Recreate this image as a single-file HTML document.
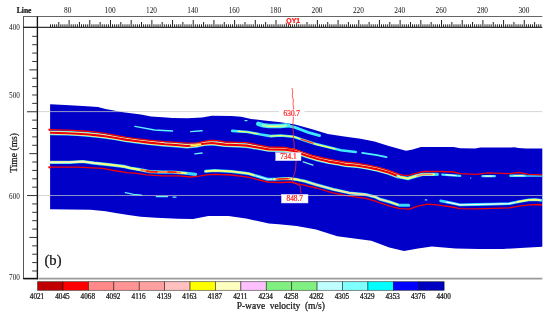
<!DOCTYPE html>
<html><head><meta charset="utf-8"><title>P-wave velocity section</title>
<style>
html,body{margin:0;padding:0;background:#fff;}
body{width:550px;height:317px;overflow:hidden;position:relative;}
svg text{font-family:"Liberation Serif",serif;stroke-width:0.22px;}
svg text.ss{font-family:"Liberation Sans",sans-serif;}
</style></head><body>
<svg width="550" height="317" viewBox="0 0 550 317" style="position:absolute;left:0;top:0">
<rect width="550" height="317" fill="#fff"/>
<polygon points="50.1,104.3 65.2,105.1 82.9,106.1 98.0,106.9 105.6,108.9 123.2,112.2 140.9,114.4 151.0,116.4 162.8,117.3 172.6,117.9 187.4,118.2 202.0,117.4 212.0,115.7 231.4,116.1 241.2,116.8 251.0,118.9 264.2,120.6 280.6,122.2 292.0,123.9 295.0,124.5 311.4,129.0 327.8,133.9 344.2,136.4 360.6,138.8 374.5,141.5 388.0,145.7 399.6,149.0 406.0,150.7 412.7,149.5 420.9,146.9 453.7,146.9 460.0,148.2 475.0,148.5 480.5,147.6 510.7,147.6 514.5,147.2 518.3,148.0 525.9,148.5 542.3,148.5 542.3,246.8 524.5,247.7 503.0,249.0 479.0,249.0 455.5,248.5 431.8,246.6 418.0,248.4 404.0,251.0 389.3,247.4 371.3,240.7 337.3,236.2 316.0,229.6 296.6,226.1 278.9,224.3 268.8,223.6 261.2,221.8 246.1,218.5 228.5,216.0 208.3,216.0 193.1,219.1 178.0,218.8 156.0,217.8 140.9,216.8 128.3,215.0 115.7,213.0 105.6,211.2 90.5,209.7 50.1,209.2" fill="#0000c8"/>
<clipPath id="c"><polygon points="50.1,104.3 65.2,105.1 82.9,106.1 98.0,106.9 105.6,108.9 123.2,112.2 140.9,114.4 151.0,116.4 162.8,117.3 172.6,117.9 187.4,118.2 202.0,117.4 212.0,115.7 231.4,116.1 241.2,116.8 251.0,118.9 264.2,120.6 280.6,122.2 292.0,123.9 295.0,124.5 311.4,129.0 327.8,133.9 344.2,136.4 360.6,138.8 374.5,141.5 388.0,145.7 399.6,149.0 406.0,150.7 412.7,149.5 420.9,146.9 453.7,146.9 460.0,148.2 475.0,148.5 480.5,147.6 510.7,147.6 514.5,147.2 518.3,148.0 525.9,148.5 542.3,148.5 542.3,246.8 524.5,247.7 503.0,249.0 479.0,249.0 455.5,248.5 431.8,246.6 418.0,248.4 404.0,251.0 389.3,247.4 371.3,240.7 337.3,236.2 316.0,229.6 296.6,226.1 278.9,224.3 268.8,223.6 261.2,221.8 246.1,218.5 228.5,216.0 208.3,216.0 193.1,219.1 178.0,218.8 156.0,217.8 140.9,216.8 128.3,215.0 115.7,213.0 105.6,211.2 90.5,209.7 50.1,209.2"/></clipPath>
<g clip-path="url(#c)">
<path d="M50.1 132.8 L66.8 133.2 L77.7 133.7 L88.6 134.5 L99.5 135.6 L105.0 136.3 L115.9 138.0 L126.8 139.9 L137.7 141.3 L148.6 142.6 L164.9 144.3 L175.9 145.0 L186.8 146.0 L195.6 145.3 L203.8 143.7 L212.0 143.0 L225.0 144.6 L235.9 145.0 L246.8 145.6 L257.7 147.5 L268.6 149.4 L284.9 149.8 L293.7 150.9 L303.2 154.4 L306.8 155.8 L317.7 159.1 L328.6 161.6 L339.5 163.4 L345.0 164.6 L355.9 165.5 L366.8 167.2 L377.7 169.4 L388.6 172.4 L396.3 175.4 L399.0 176.6" stroke="#30d8ff" stroke-width="4.8" fill="none" stroke-linecap="butt" stroke-linejoin="round"/>
<path d="M50.1 132.8 L66.8 133.2 L77.7 133.7 L88.6 134.5 L99.5 135.6 L105.0 136.3 L115.9 138.0 L126.8 139.9 L137.7 141.3 L148.6 142.6 L164.9 144.3 L175.9 145.0 L186.8 146.0 L195.6 145.3 L203.8 143.7 L212.0 143.0 L225.0 144.6 L235.9 145.0 L246.8 145.6 L257.7 147.5 L268.6 149.4 L284.9 149.8 L293.7 150.9 L303.2 154.4 L306.8 155.8 L317.7 159.1 L328.6 161.6 L339.5 163.4 L345.0 164.6 L355.9 165.5 L366.8 167.2 L377.7 169.4 L388.6 172.4 L396.3 175.4 L399.0 176.6" stroke="#ffffa0" stroke-width="3.6" fill="none" stroke-linecap="butt" stroke-linejoin="round"/>

<path d="M50.1 132.8 L66.8 133.2 L77.7 133.7 L88.6 134.5 L99.5 135.6 L105.0 136.3 L115.9 138.0 L126.8 139.9 L137.7 141.3 L148.6 142.6 L164.9 144.3 L175.9 145.0 L186.8 146.0 L195.6 145.3 L203.8 143.7 L212.0 143.0 L225.0 144.6 L235.9 145.0 L246.8 145.6 L257.7 147.5 L268.6 149.4 L284.9 149.8 L293.7 150.9 L303.2 154.4 L306.8 155.8 L317.7 159.1 L328.6 161.6 L339.5 163.4 L345.0 164.6 L355.9 165.5 L366.8 167.2 L377.7 169.4 L388.6 172.4 L396.3 175.4 L398.0 176.2" stroke="#e8000a" stroke-width="2.1" fill="none" stroke-linecap="round" stroke-linejoin="round"/>

<path d="M398.0 176.2 L399.6 176.9 L407.8 178.5 L416.0 176.0 L422.5 174.4 L430.7 174.4 L437.3 174.4" stroke="#30d8ff" stroke-width="3.4" fill="none" stroke-linecap="round" stroke-linejoin="round"/>

<path d="M398.0 176.2 L399.6 176.9 L407.8 178.5 L416.0 176.0 L422.5 174.4 L430.7 174.4 L434.0 174.4" stroke="#ffff70" stroke-width="2.0" fill="none" stroke-linecap="round" stroke-linejoin="round"/>

<path d="M417.0 175.8 L422.5 174.4 L430.7 174.4 L432.0 174.4" stroke="#ff9070" stroke-width="1.3" fill="none" stroke-linecap="round" stroke-linejoin="round"/>

<path d="M49.9 162.3 L69.6 162.3 L82.7 161.5 L94.2 163.1 L110.6 164.8 L123.7 166.4 L130.0 168.0 L139.8 169.7 L149.7 171.6 L162.8 172.1 L172.6 172.1 L184.1 173.0 L195.6 174.3" stroke="#38d8ff" stroke-width="3.2" fill="none" stroke-linecap="round" stroke-linejoin="round"/>

<path d="M50.0 162.3 L69.6 162.3 L82.7 161.5 L94.2 163.1 L110.6 164.8 L123.7 166.4 L130.0 168.0 L139.8 169.7 L149.7 171.6 L162.8 172.1 L172.6 172.1 L184.1 173.0 L186.0 173.2" stroke="#ffff78" stroke-width="2.0" fill="none" stroke-linecap="round" stroke-linejoin="round"/>

<path d="M50.0 162.3 L69.6 162.3 L82.7 161.5 L94.2 163.1 L100.0 163.7" stroke="#fff4d0" stroke-width="1.2" fill="none" stroke-linecap="round" stroke-linejoin="round"/>

<path d="M141.0 169.9 L149.7 171.6 L162.8 172.1 L172.6 172.1 L180.0 172.7" stroke="#ff8040" stroke-width="1.8" fill="none" stroke-linecap="round" stroke-linejoin="round"/>

<path d="M147.0 171.1 L149.7 171.6 L157.0 171.9" stroke="#f01808" stroke-width="1.6" fill="none" stroke-linecap="round" stroke-linejoin="round"/>

<path d="M168.0 172.1 L172.6 172.1 L176.0 172.4" stroke="#f01808" stroke-width="1.5" fill="none" stroke-linecap="round" stroke-linejoin="round"/>

<path d="M205.4 171.3 L215.0 170.6 L231.4 171.4 L247.8 173.4 L257.6 176.3 L267.5 179.3 L277.3 179.1 L288.8 178.6 L297.0 179.6 L305.0 181.2 L316.4 184.7 L332.8 189.3 L349.2 192.9 L365.6 194.5 L375.4 197.0 L380.0 199.3 L389.8 202.0 L399.7 205.3 L408.7 205.3" stroke="#38d8ff" stroke-width="3.0" fill="none" stroke-linecap="round" stroke-linejoin="round"/>

<path d="M206.0 171.3 L215.0 170.6 L231.4 171.4 L247.8 173.4 L254.0 175.2" stroke="#ffff78" stroke-width="1.9" fill="none" stroke-linecap="round" stroke-linejoin="round"/>

<path d="M256.0 175.8 L257.6 176.3 L267.5 179.3 L272.0 179.2" stroke="#fffff0" stroke-width="1.0" fill="none" stroke-linecap="round" stroke-linejoin="round"/>

<path d="M274.0 179.2 L277.3 179.1 L288.8 178.6 L297.0 179.6 L300.0 180.2" stroke="#ffff78" stroke-width="2.0" fill="none" stroke-linecap="round" stroke-linejoin="round"/>

<path d="M276.0 179.1 L277.3 179.1 L288.8 178.6 L290.0 178.7" stroke="#ff8040" stroke-width="1.8" fill="none" stroke-linecap="round" stroke-linejoin="round"/>

<path d="M278.0 179.1 L288.0 178.6" stroke="#f01808" stroke-width="1.3" fill="none" stroke-linecap="round" stroke-linejoin="round"/>

<path d="M302.0 180.6 L305.0 181.2 L316.4 184.7 L332.8 189.3 L349.2 192.9 L365.6 194.5 L375.4 197.0 L380.0 199.3 L389.8 202.0 L398.0 204.7" stroke="#ffff78" stroke-width="1.7" fill="none" stroke-linecap="round" stroke-linejoin="round"/>

<path d="M310.0 182.7 L316.4 184.7 L332.8 189.3 L349.2 192.9 L365.6 194.5 L375.4 197.0 L380.0 199.3 L389.8 202.0 L390.0 202.1" stroke="#ffd0c0" stroke-width="0.9" fill="none" stroke-linecap="round" stroke-linejoin="round"/>

<path d="M440.7 200.9 L452.1 203.2 L460.0 204.8 L476.4 204.5 L492.8 204.2 L509.2 203.7 L519.0 201.6 L528.9 199.9 L535.4 199.6 L542.0 200.4" stroke="#38d8ff" stroke-width="2.8" fill="none" stroke-linecap="round" stroke-linejoin="round"/>

<path d="M446.0 202.0 L452.1 203.2 L460.0 204.8 L476.4 204.5 L492.8 204.2 L509.2 203.7 L515.0 202.5" stroke="#fffff0" stroke-width="1.2" fill="none" stroke-linecap="round" stroke-linejoin="round"/>

<path d="M517.0 202.0 L519.0 201.6 L528.9 199.9 L535.4 199.6 L540.0 200.2" stroke="#ffff78" stroke-width="1.8" fill="none" stroke-linecap="round" stroke-linejoin="round"/>

<path d="M134.9 126.4 L154.6 130.0 L172.6 131.0" stroke="#60f0ff" stroke-width="1.4" fill="none" stroke-linecap="round"/>
<path d="M190.7 131.6 L202.1 130.8" stroke="#60f0ff" stroke-width="1.4" fill="none" stroke-linecap="round"/>
<path d="M191.0 145.4 L196.0 145.1 L200.5 144.3" stroke="#ffff50" stroke-width="1.7" fill="none" stroke-linecap="round"/>
<path d="M194.8 153.9 L202.1 153.0" stroke="#60f0ff" stroke-width="1.4" fill="none" stroke-linecap="round"/>
<path d="M245.0 120.6 L247.0 120.6" stroke="#60f0ff" stroke-width="1.2" fill="none" stroke-linecap="round"/>
<path d="M258.3 123.9 L263.0 125.2 L269.0 126.0 L280.6 126.0 L288.0 125.2" stroke="#40e8ff" stroke-width="4.6" fill="none" stroke-linecap="round"/>
<path d="M286.0 125.3 L295.0 127.4 L308.1 132.3 L319.6 135.6" stroke="#40e8ff" stroke-width="2.8" fill="none" stroke-linecap="round"/>
<path d="M263.0 125.4 L269.0 126.2 L281.0 126.2 L286.0 125.6" stroke="#a8ffb0" stroke-width="2.2" fill="none" stroke-linecap="round"/>
<path d="M268.0 126.3 L279.0 126.4" stroke="#ffff80" stroke-width="1.0" fill="none" stroke-linecap="round"/>
<path d="M232.2 130.9 L247.8 132.0 L260.9 134.5 L270.7 136.1 L280.6 135.5 L293.7 136.7 L304.8 140.5 L314.7 143.8 L327.8 147.0 L340.9 150.3 L355.7 152.0" stroke="#40e8ff" stroke-width="2.6" fill="none" stroke-linecap="round"/>
<path d="M238.0 131.3 L247.8 132.0 L258.0 134.0" stroke="#ffff60" stroke-width="1.2" fill="none" stroke-linecap="round"/>
<path d="M270.7 136.1 L280.6 135.5 L293.7 136.7 L300.0 138.8 L318.0 144.8 L335.0 148.8" stroke="#ffff60" stroke-width="1.2" fill="none" stroke-linecap="round"/>
<path d="M301.0 139.2 L313.0 143.2" stroke="#ff4020" stroke-width="1.4" fill="none" stroke-linecap="round"/>
<path d="M362.2 152.8 L377.0 155.2 L386.5 157.2" stroke="#50f0ff" stroke-width="1.8" fill="none" stroke-linecap="round"/>
<path d="M303.2 161.8 L313.0 165.1" stroke="#80f0e0" stroke-width="1.3" fill="none" stroke-linecap="round"/>
<path d="M442.2 174.6 L460.2 175.9" stroke="#40e8ff" stroke-width="2.2" fill="none" stroke-linecap="round"/>
<path d="M446.0 174.8 L456.0 175.5" stroke="#ffffff" stroke-width="1" fill="none" stroke-linecap="round"/>
<path d="M482.6 176.1 L494.7 176.1" stroke="#50e8ff" stroke-width="2.4" fill="none" stroke-linecap="round"/>
<path d="M485.0 176.1 L492.0 176.1" stroke="#ffffd0" stroke-width="1.0" fill="none" stroke-linecap="round"/>
<path d="M510.5 175.7 L525.0 175.7" stroke="#50e8ff" stroke-width="2.4" fill="none" stroke-linecap="round"/>
<path d="M514.0 175.6 L523.0 175.6" stroke="#ffffb0" stroke-width="1.0" fill="none" stroke-linecap="round"/>
<path d="M525.6 176.0 L542.0 176.0" stroke="#40e0ff" stroke-width="1.4" fill="none" stroke-linecap="round"/>
<path d="M470.5 178.0 L470.9 178.0" stroke="#60f0ff" stroke-width="1.0" fill="none" stroke-linecap="round"/>
<path d="M125.3 192.6 L133.5 194.3 L141.5 195.1" stroke="#60f0ff" stroke-width="1.3" fill="none" stroke-linecap="round"/>
<path d="M156.2 196.6 L167.7 196.6" stroke="#60f0ff" stroke-width="1.2" fill="none" stroke-linecap="round"/>
<path d="M173.0 197.2 L176.0 197.2" stroke="#60f0ff" stroke-width="1.2" fill="none" stroke-linecap="round"/>
<path d="M425.4 199.9 L426.6 199.9" stroke="#60f0ff" stroke-width="1.4" fill="none" stroke-linecap="round"/>
</g>
<path d="M49.9 129.6 L66.8 130.2 L83.2 131.0 L94.1 131.8 L105.0 133.4 L115.9 135.5 L126.8 137.4 L137.7 138.8 L148.6 140.2 L164.9 141.7 L175.9 142.3 L186.8 143.1 L197.7 142.8 L205.3 141.2 L210.8 140.3 L218.0 140.7 L225.0 142.0 L235.9 142.3 L246.8 142.7 L257.7 144.8 L268.6 147.0 L284.9 147.5 L295.9 149.6 L302.4 152.0 L312.3 155.3 L323.2 158.0 L334.1 160.2 L345.0 162.0 L355.9 163.0 L366.8 164.8 L377.7 167.2 L388.6 170.4 L399.5 174.3 L404.9 175.6 L409.4 175.2 L417.6 172.8 L424.2 171.5 L440.6 171.5 L453.7 172.0 L460.0 173.6 L476.4 174.4 L487.9 172.8 L509.2 173.6 L519.0 172.5 L528.9 174.4 L542.0 174.8" stroke="#f00008" stroke-width="1.3" fill="none" stroke-linejoin="round"/>
<path d="M49.9 167.2 L77.8 167.2 L102.4 168.4 L113.9 170.5 L127.0 172.6 L135.0 173.2 L146.4 174.9 L162.8 175.9 L179.2 175.9 L190.7 177.0 L198.9 176.2 L208.7 174.6 L215.0 174.3 L231.4 175.0 L247.8 177.1 L257.6 179.6 L267.5 182.0 L280.6 182.5 L290.4 182.0 L300.2 184.3 L316.4 188.0 L332.8 192.9 L349.2 196.1 L365.6 198.3 L375.4 201.2 L380.0 202.9 L389.8 206.1 L399.7 208.6 L409.5 209.1 L417.7 206.1 L427.5 204.2 L437.4 204.8 L452.1 207.0 L460.0 208.6 L476.4 208.9 L492.8 208.3 L509.2 207.8 L519.0 206.1 L528.9 204.8 L538.7 204.5 L542.0 205.0" stroke="#f00008" stroke-width="1.3" fill="none" stroke-linejoin="round"/>
<circle cx="49.6" cy="129.8" r="1.3" fill="#ff1010"/><circle cx="49.6" cy="167.3" r="1.3" fill="#ff1010"/>
<line x1="38" y1="111.6" x2="542.3" y2="111.6" stroke="#c8c8c8" stroke-width="0.9" opacity="0.85"/>
<line x1="38" y1="195.45" x2="542.3" y2="195.45" stroke="#c8c8c8" stroke-width="0.9" opacity="0.85"/>
<path d="M292.0 88.1 L292.8 92.0 L292.2 96.0 L293.4 100.0 L293.0 104.0 L293.7 108.0 L293.2 112.0 L293.4 118.0 L292.9 124.0 L293.3 135.0 L294.5 150.0 L296.1 161.0 L295.5 170.0 L292.0 181.5 L300.2 186.0 L301.0 193.5" stroke="#ff2828" stroke-width="0.75" fill="none"/>
<rect x="279" y="109.5" width="25.5" height="7.0" fill="#fff"/>
<text x="291.8" y="115.5" font-size="7.3" fill="#ff2020" stroke="#ff2020" text-anchor="middle">630.7</text>
<rect x="275.7" y="152.5" width="25.3" height="8.2" fill="#fff" stroke="#d0d0ff" stroke-width="0.5"/>
<text x="288.4" y="159.1" font-size="7.3" fill="#ff2020" stroke="#ff2020" text-anchor="middle">734.1</text>
<rect x="281.4" y="194.3" width="26.6" height="8.7" fill="#fff" stroke="#d0d0ff" stroke-width="0.5"/>
<text x="294.7" y="201.2" font-size="7.3" fill="#ff2020" stroke="#ff2020" text-anchor="middle">848.7</text>
<line x1="23.1" y1="16.5" x2="542.3" y2="16.5" stroke="#555" stroke-width="0.9"/>
<line x1="23.5" y1="16.5" x2="23.5" y2="279" stroke="#444" stroke-width="0.9"/>
<line x1="23.3" y1="27.3" x2="38" y2="27.3" stroke="#111" stroke-width="1.25"/>
<line x1="38" y1="27.3" x2="542.3" y2="27.3" stroke="#333" stroke-width="1.2"/>
<line x1="37.4" y1="16.5" x2="37.4" y2="279.3" stroke="#111" stroke-width="1.35"/>
<line x1="23.3" y1="278.6" x2="38" y2="278.6" stroke="#111" stroke-width="1.6"/>
<line x1="38.4" y1="278.6" x2="542.3" y2="278.6" stroke="#999" stroke-width="1.6"/>
<path d="M50.48 27.3V24.3M52.55 27.3V24.3M54.62 27.3V24.3M56.69 27.3V24.3M58.75 27.3V22.0M60.82 27.3V24.3M62.89 27.3V24.3M64.96 27.3V24.3M67.03 27.3V24.3M69.10 27.3V20.0M71.17 27.3V24.3M73.24 27.3V24.3M75.31 27.3V24.3M77.38 27.3V24.3M79.44 27.3V22.0M81.51 27.3V24.3M83.58 27.3V24.3M85.65 27.3V24.3M87.72 27.3V24.3M89.79 27.3V20.0M91.86 27.3V24.3M93.93 27.3V24.3M96.00 27.3V24.3M98.07 27.3V24.3M100.13 27.3V22.0M102.20 27.3V24.3M104.27 27.3V24.3M106.34 27.3V24.3M108.41 27.3V24.3M110.48 27.3V20.0M112.55 27.3V24.3M114.62 27.3V24.3M116.69 27.3V24.3M118.76 27.3V24.3M120.82 27.3V22.0M122.89 27.3V24.3M124.96 27.3V24.3M127.03 27.3V24.3M129.10 27.3V24.3M131.17 27.3V20.0M133.24 27.3V24.3M135.31 27.3V24.3M137.38 27.3V24.3M139.45 27.3V24.3M141.51 27.3V22.0M143.58 27.3V24.3M145.65 27.3V24.3M147.72 27.3V24.3M149.79 27.3V24.3M151.86 27.3V20.0M153.93 27.3V24.3M156.00 27.3V24.3M158.07 27.3V24.3M160.14 27.3V24.3M162.20 27.3V22.0M164.27 27.3V24.3M166.34 27.3V24.3M168.41 27.3V24.3M170.48 27.3V24.3M172.55 27.3V20.0M174.62 27.3V24.3M176.69 27.3V24.3M178.76 27.3V24.3M180.83 27.3V24.3M182.89 27.3V22.0M184.96 27.3V24.3M187.03 27.3V24.3M189.10 27.3V24.3M191.17 27.3V24.3M193.24 27.3V20.0M195.31 27.3V24.3M197.38 27.3V24.3M199.45 27.3V24.3M201.52 27.3V24.3M203.58 27.3V22.0M205.65 27.3V24.3M207.72 27.3V24.3M209.79 27.3V24.3M211.86 27.3V24.3M213.93 27.3V20.0M216.00 27.3V24.3M218.07 27.3V24.3M220.14 27.3V24.3M222.21 27.3V24.3M224.27 27.3V22.0M226.34 27.3V24.3M228.41 27.3V24.3M230.48 27.3V24.3M232.55 27.3V24.3M234.62 27.3V20.0M236.69 27.3V24.3M238.76 27.3V24.3M240.83 27.3V24.3M242.90 27.3V24.3M244.97 27.3V22.0M247.03 27.3V24.3M249.10 27.3V24.3M251.17 27.3V24.3M253.24 27.3V24.3M255.31 27.3V20.0M257.38 27.3V24.3M259.45 27.3V24.3M261.52 27.3V24.3M263.59 27.3V24.3M265.65 27.3V22.0M267.72 27.3V24.3M269.79 27.3V24.3M271.86 27.3V24.3M273.93 27.3V24.3M276.00 27.3V20.0M278.07 27.3V24.3M280.14 27.3V24.3M282.21 27.3V24.3M284.28 27.3V24.3M286.35 27.3V22.0M288.41 27.3V24.3M290.48 27.3V24.3M292.55 27.3V24.3M294.62 27.3V24.3M296.69 27.3V20.0M298.76 27.3V24.3M300.83 27.3V24.3M302.90 27.3V24.3M304.97 27.3V24.3M307.03 27.3V22.0M309.10 27.3V24.3M311.17 27.3V24.3M313.24 27.3V24.3M315.31 27.3V24.3M317.38 27.3V20.0M319.45 27.3V24.3M321.52 27.3V24.3M323.59 27.3V24.3M325.66 27.3V24.3M327.73 27.3V22.0M329.79 27.3V24.3M331.86 27.3V24.3M333.93 27.3V24.3M336.00 27.3V24.3M338.07 27.3V20.0M340.14 27.3V24.3M342.21 27.3V24.3M344.28 27.3V24.3M346.35 27.3V24.3M348.41 27.3V22.0M350.48 27.3V24.3M352.55 27.3V24.3M354.62 27.3V24.3M356.69 27.3V24.3M358.76 27.3V20.0M360.83 27.3V24.3M362.90 27.3V24.3M364.97 27.3V24.3M367.04 27.3V24.3M369.11 27.3V22.0M371.17 27.3V24.3M373.24 27.3V24.3M375.31 27.3V24.3M377.38 27.3V24.3M379.45 27.3V20.0M381.52 27.3V24.3M383.59 27.3V24.3M385.66 27.3V24.3M387.73 27.3V24.3M389.79 27.3V22.0M391.86 27.3V24.3M393.93 27.3V24.3M396.00 27.3V24.3M398.07 27.3V24.3M400.14 27.3V20.0M402.21 27.3V24.3M404.28 27.3V24.3M406.35 27.3V24.3M408.42 27.3V24.3M410.49 27.3V22.0M412.55 27.3V24.3M414.62 27.3V24.3M416.69 27.3V24.3M418.76 27.3V24.3M420.83 27.3V20.0M422.90 27.3V24.3M424.97 27.3V24.3M427.04 27.3V24.3M429.11 27.3V24.3M431.17 27.3V22.0M433.24 27.3V24.3M435.31 27.3V24.3M437.38 27.3V24.3M439.45 27.3V24.3M441.52 27.3V20.0M443.59 27.3V24.3M445.66 27.3V24.3M447.73 27.3V24.3M449.80 27.3V24.3M451.87 27.3V22.0M453.93 27.3V24.3M456.00 27.3V24.3M458.07 27.3V24.3M460.14 27.3V24.3M462.21 27.3V20.0M464.28 27.3V24.3M466.35 27.3V24.3M468.42 27.3V24.3M470.49 27.3V24.3M472.55 27.3V22.0M474.62 27.3V24.3M476.69 27.3V24.3M478.76 27.3V24.3M480.83 27.3V24.3M482.90 27.3V20.0M484.97 27.3V24.3M487.04 27.3V24.3M489.11 27.3V24.3M491.18 27.3V24.3M493.25 27.3V22.0M495.31 27.3V24.3M497.38 27.3V24.3M499.45 27.3V24.3M501.52 27.3V24.3M503.59 27.3V20.0M505.66 27.3V24.3M507.73 27.3V24.3M509.80 27.3V24.3M511.87 27.3V24.3M513.93 27.3V22.0M516.00 27.3V24.3M518.07 27.3V24.3M520.14 27.3V24.3M522.21 27.3V24.3M524.28 27.3V20.0M526.35 27.3V24.3M528.42 27.3V24.3M530.49 27.3V24.3M532.56 27.3V24.3M534.62 27.3V22.0M536.69 27.3V24.3M538.76 27.3V24.3M540.83 27.3V24.3" stroke="#222" stroke-width="1.0" fill="none"/>
<path d="M32.2 36.33H37.4M32.2 44.71H37.4M32.2 53.09H37.4M32.2 61.47H37.4M29.4 69.85H37.4M32.2 78.23H37.4M32.2 86.61H37.4M32.2 94.99H37.4M32.2 103.37H37.4M27.0 111.75H37.4M32.2 120.13H37.4M32.2 128.51H37.4M32.2 136.89H37.4M32.2 145.27H37.4M29.4 153.65H37.4M32.2 162.03H37.4M32.2 170.41H37.4M32.2 178.79H37.4M32.2 187.17H37.4M27.0 195.55H37.4M32.2 203.93H37.4M32.2 212.31H37.4M32.2 220.69H37.4M32.2 229.07H37.4M29.4 237.45H37.4M32.2 245.83H37.4M32.2 254.21H37.4M32.2 262.59H37.4M32.2 270.97H37.4" stroke="#333" stroke-width="1.0" fill="none"/>
<text x="67.7" y="13" font-size="7.3" text-anchor="middle" fill="#111">80</text>
<text x="110.1" y="13" font-size="7.3" text-anchor="middle" fill="#111">100</text>
<text x="151.5" y="13" font-size="7.3" text-anchor="middle" fill="#111">120</text>
<text x="192.8" y="13" font-size="7.3" text-anchor="middle" fill="#111">140</text>
<text x="234.2" y="13" font-size="7.3" text-anchor="middle" fill="#111">160</text>
<text x="275.6" y="13" font-size="7.3" text-anchor="middle" fill="#111">180</text>
<text x="317.0" y="13" font-size="7.3" text-anchor="middle" fill="#111">200</text>
<text x="358.4" y="13" font-size="7.3" text-anchor="middle" fill="#111">220</text>
<text x="399.7" y="13" font-size="7.3" text-anchor="middle" fill="#111">240</text>
<text x="441.1" y="13" font-size="7.3" text-anchor="middle" fill="#111">260</text>
<text x="482.5" y="13" font-size="7.3" text-anchor="middle" fill="#111">280</text>
<text x="523.9" y="13" font-size="7.3" text-anchor="middle" fill="#111">300</text>
<text x="16.8" y="12.95" font-size="7.5" font-weight="bold" fill="#111" stroke="#111">Line</text>
<rect x="285.8" y="17.6" width="15" height="5.6" fill="#fff"/>
<text x="293.2" y="22.7" font-size="6.9" font-weight="bold" class="ss" fill="#ff1010" stroke="#ff1010" text-anchor="middle">QY1</text>
<text x="14.5" y="29.8" font-size="7.2" text-anchor="middle" fill="#111">400</text>
<text x="14.5" y="97.9" font-size="7.2" text-anchor="middle" fill="#111">500</text>
<text x="14.5" y="198.9" font-size="7.2" text-anchor="middle" fill="#111">600</text>
<text x="14.5" y="279.6" font-size="7.2" text-anchor="middle" fill="#111">700</text>
<text transform="translate(16.5,152.9) rotate(-90)" font-size="9.6" text-anchor="middle" fill="#111" stroke="#111">Time (ms)</text>
<text x="44.5" y="265" font-size="14.6" fill="#111" stroke="#111">(b)</text>
<rect x="37.60" y="281.7" width="25.41" height="8.6" fill="#c00000" stroke="#000" stroke-opacity="0.65" stroke-width="0.7"/>
<rect x="63.01" y="281.7" width="25.41" height="8.6" fill="#ff0000" stroke="#000" stroke-opacity="0.65" stroke-width="0.7"/>
<rect x="88.42" y="281.7" width="25.41" height="8.6" fill="#ff8888" stroke="#000" stroke-opacity="0.65" stroke-width="0.7"/>
<rect x="113.83" y="281.7" width="25.41" height="8.6" fill="#ff9494" stroke="#000" stroke-opacity="0.65" stroke-width="0.7"/>
<rect x="139.24" y="281.7" width="25.41" height="8.6" fill="#ffa0a0" stroke="#000" stroke-opacity="0.65" stroke-width="0.7"/>
<rect x="164.65" y="281.7" width="25.41" height="8.6" fill="#ffc0c0" stroke="#000" stroke-opacity="0.65" stroke-width="0.7"/>
<rect x="190.06" y="281.7" width="25.41" height="8.6" fill="#ffff00" stroke="#000" stroke-opacity="0.65" stroke-width="0.7"/>
<rect x="215.47" y="281.7" width="25.41" height="8.6" fill="#ffffc0" stroke="#000" stroke-opacity="0.65" stroke-width="0.7"/>
<rect x="240.88" y="281.7" width="25.41" height="8.6" fill="#ffc0ff" stroke="#000" stroke-opacity="0.65" stroke-width="0.7"/>
<rect x="266.29" y="281.7" width="25.41" height="8.6" fill="#80f080" stroke="#000" stroke-opacity="0.65" stroke-width="0.7"/>
<rect x="291.70" y="281.7" width="25.41" height="8.6" fill="#80f080" stroke="#000" stroke-opacity="0.65" stroke-width="0.7"/>
<rect x="317.11" y="281.7" width="25.41" height="8.6" fill="#c0ffff" stroke="#000" stroke-opacity="0.65" stroke-width="0.7"/>
<rect x="342.52" y="281.7" width="25.41" height="8.6" fill="#80ffff" stroke="#000" stroke-opacity="0.65" stroke-width="0.7"/>
<rect x="367.93" y="281.7" width="25.41" height="8.6" fill="#00ffff" stroke="#000" stroke-opacity="0.65" stroke-width="0.7"/>
<rect x="393.34" y="281.7" width="25.41" height="8.6" fill="#0000ff" stroke="#000" stroke-opacity="0.65" stroke-width="0.7"/>
<rect x="418.75" y="281.7" width="25.41" height="8.6" fill="#0000c0" stroke="#000" stroke-opacity="0.65" stroke-width="0.7"/>
<text x="37.0" y="299" font-size="7.2" text-anchor="middle" fill="#111" stroke="#111" stroke-width="0.1">4021</text>
<text x="62.4" y="299" font-size="7.2" text-anchor="middle" fill="#111" stroke="#111" stroke-width="0.1">4045</text>
<text x="87.8" y="299" font-size="7.2" text-anchor="middle" fill="#111" stroke="#111" stroke-width="0.1">4068</text>
<text x="113.2" y="299" font-size="7.2" text-anchor="middle" fill="#111" stroke="#111" stroke-width="0.1">4092</text>
<text x="138.6" y="299" font-size="7.2" text-anchor="middle" fill="#111" stroke="#111" stroke-width="0.1">4116</text>
<text x="164.1" y="299" font-size="7.2" text-anchor="middle" fill="#111" stroke="#111" stroke-width="0.1">4139</text>
<text x="189.5" y="299" font-size="7.2" text-anchor="middle" fill="#111" stroke="#111" stroke-width="0.1">4163</text>
<text x="214.9" y="299" font-size="7.2" text-anchor="middle" fill="#111" stroke="#111" stroke-width="0.1">4187</text>
<text x="240.3" y="299" font-size="7.2" text-anchor="middle" fill="#111" stroke="#111" stroke-width="0.1">4211</text>
<text x="265.7" y="299" font-size="7.2" text-anchor="middle" fill="#111" stroke="#111" stroke-width="0.1">4234</text>
<text x="291.1" y="299" font-size="7.2" text-anchor="middle" fill="#111" stroke="#111" stroke-width="0.1">4258</text>
<text x="316.5" y="299" font-size="7.2" text-anchor="middle" fill="#111" stroke="#111" stroke-width="0.1">4282</text>
<text x="341.9" y="299" font-size="7.2" text-anchor="middle" fill="#111" stroke="#111" stroke-width="0.1">4305</text>
<text x="367.3" y="299" font-size="7.2" text-anchor="middle" fill="#111" stroke="#111" stroke-width="0.1">4329</text>
<text x="392.7" y="299" font-size="7.2" text-anchor="middle" fill="#111" stroke="#111" stroke-width="0.1">4353</text>
<text x="418.1" y="299" font-size="7.2" text-anchor="middle" fill="#111" stroke="#111" stroke-width="0.1">4376</text>
<text x="443.6" y="299" font-size="7.2" text-anchor="middle" fill="#111" stroke="#111" stroke-width="0.1">4400</text>
<text x="280.8" y="308.7" font-size="9.5" text-anchor="middle" fill="#111" stroke="#111" word-spacing="2.2">P-wave velocity (m/s)</text>
</svg>
</body></html>
